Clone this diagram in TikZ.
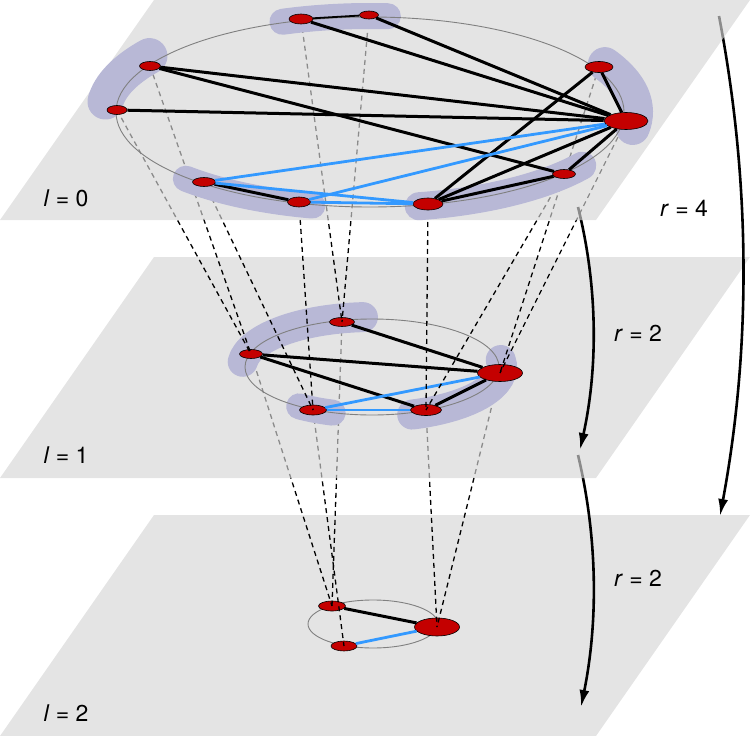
\documentclass[tikz,border=0pt]{standalone}
\usepackage{fontspec}
\setmainfont{TeX Gyre Heros}
\usetikzlibrary{shapes.geometric}
\usetikzlibrary{arrows.meta}

\definecolor{nodered}{RGB}{196,0,0}
\definecolor{edgeblue}{RGB}{51,153,255}
\definecolor{blobcol}{RGB}{184,184,214}

\pgfdeclarelayer{plane2}
\pgfdeclarelayer{graph2}
\pgfdeclarelayer{drop2}
\pgfdeclarelayer{plane1}
\pgfdeclarelayer{graph1}
\pgfdeclarelayer{drop1}
\pgfdeclarelayer{plane0}
\pgfsetlayers{plane2,graph2,drop2,plane1,graph1,drop1,plane0,main}

\begin{document}
\begin{tikzpicture}[x=1pt, y=-1pt,
    plane/.style={fill=black!16, fill opacity=0.65},
    vtx/.style={ellipse, draw, fill=nodered, line width=0.6pt, inner sep=0pt},
    ring/.style={draw=black!50, line width=0.9pt},
    blob/.style={draw=blobcol, line cap=round},
    tie/.style={line width=3pt},
    bluetie/.style={draw=edgeblue, line width=2.8pt},
    drop/.style={dash pattern=on 5pt off 4pt, line width=1.3pt},
    jump/.style={line width=2.6pt, -{Latex[length=17pt,width=10pt]}},
    lvl/.style={font=\fontsize{23}{27}\selectfont}]
        \useasboundingbox (0,0) rectangle (750,736);

        \begin{pgfonlayer}{plane0}
          \fill[plane] (154,0) -- (750,0) -- (596,220) -- (0,220) -- cycle;
        \end{pgfonlayer}
        \begin{pgfonlayer}{plane1}
          \fill[plane] (154,257) -- (750,257) -- (596,478) -- (0,478) -- cycle;
        \end{pgfonlayer}
        \begin{pgfonlayer}{plane2}
          \fill[plane] (154,515) -- (750,515) -- (596,736) -- (0,736) -- cycle;
        \end{pgfonlayer}

        % level 0
        \draw[blob, line width=26pt] (370,112) ++(250:256 and 96) arc[start angle=250, end angle=274, x radius=256, y radius=96];
        \draw[blob, line width=36pt] (370,112) ++(186:266 and 100) arc[start angle=186, end angle=214, x radius=266, y radius=100];
        \draw[blob, line width=34pt] (370,112) ++(332:266 and 102) arc[start angle=332, end angle=369, x radius=266, y radius=102];
        \draw[blob, line width=26pt] (370,112) ++(103:256 and 96) arc[start angle=103, end angle=136, x radius=256, y radius=96];
        \draw[blob, line width=28pt] (370,112) ++(34:256 and 96) arc[start angle=34, end angle=79, x radius=256, y radius=96];
        \draw[ring] (370,112) ellipse [x radius=254, y radius=95];

        \node[vtx, minimum width=24pt, minimum height=10pt] (a0) at (301,19) {};
        \node[vtx, minimum width=19pt, minimum height=8pt] (b0) at (369,15) {};
        \node[vtx, minimum width=21pt, minimum height=9pt] (c0) at (150,66) {};
        \node[vtx, minimum width=20pt, minimum height=9pt] (d0) at (117,110) {};
        \node[vtx, minimum width=28pt, minimum height=11pt] (e0) at (599,67) {};
        \node[vtx, minimum width=44pt, minimum height=17pt] (f0) at (626,121) {};
        \node[vtx, minimum width=23pt, minimum height=9pt] (g0) at (204,182) {};
        \node[vtx, minimum width=23pt, minimum height=10pt] (h0) at (299,202) {};
        \node[vtx, minimum width=30pt, minimum height=12pt] (i0) at (428,204) {};
        \node[vtx, minimum width=23pt, minimum height=9pt] (j0) at (564,174) {};

        \draw[tie, line width=1.8pt] (a0) -- (b0);
        \draw[tie] (a0) -- (f0);
        \draw[tie] (b0) -- (f0);
        \draw[tie] (c0) -- (f0);
        \draw[tie] (c0) -- (j0);
        \draw[tie] (d0) -- (f0);
        \draw[tie] (e0) -- (f0);
        \draw[tie] (e0) -- (i0);
        \draw[tie] (f0) -- (i0);
        \draw[tie] (f0) -- (j0);
        \draw[tie] (i0) -- (j0);
        \draw[tie] (g0) -- (h0);
        \draw[bluetie] (g0) -- (f0);
        \draw[bluetie] (h0) -- (f0);
        \draw[bluetie] (g0) -- (i0);
        \draw[bluetie] (h0) -- (i0);

        % level 1
        \begin{pgfonlayer}{graph1}
          \draw[blob, line width=30pt] (372,367) ++(186:130 and 50) arc[start angle=186, end angle=266, x radius=130, y radius=50];
          \draw[blob, line width=30pt] (372,367) ++(-8:130 and 50) arc[start angle=-8, end angle=72, x radius=130, y radius=50];
          \draw[blob, line width=26pt] (372,367) ++(108:127 and 48) arc[start angle=108, end angle=125, x radius=127, y radius=48];
          \draw[ring] (372,367) ellipse [x radius=127, y radius=48];

          \node[vtx, minimum width=25pt, minimum height=9pt] (p1) at (342,322) {};
          \node[vtx, minimum width=23pt, minimum height=9pt] (q1) at (251,354) {};
          \node[vtx, minimum width=45pt, minimum height=17pt] (r1) at (500,373) {};
          \node[vtx, minimum width=27pt, minimum height=10pt] (s1) at (313,410) {};
          \node[vtx, minimum width=31pt, minimum height=11pt] (t1) at (426,410) {};

          \draw[tie] (p1) -- (r1);
          \draw[tie] (q1) -- (r1);
          \draw[tie] (q1) -- (t1);
          \draw[tie] (t1) -- (r1);
          \draw[bluetie] (s1) -- (r1);
          \draw[bluetie] (s1) -- (t1);
        \end{pgfonlayer}

        % level 2
        \begin{pgfonlayer}{graph2}
          \draw[ring] (373,624) ellipse [x radius=65, y radius=24];

          \node[vtx, minimum width=27pt, minimum height=10pt] (u2) at (332,606) {};
          \node[vtx, minimum width=26pt, minimum height=10pt] (v2) at (344,646) {};
          \node[vtx, minimum width=45pt, minimum height=18pt] (w2) at (437,627) {};

          \draw[tie] (u2) -- (w2);
          \draw[bluetie] (v2) -- (w2);
        \end{pgfonlayer}

        % projections between levels
        \begin{pgfonlayer}{drop1}
          \foreach \up/\down in {a0/p1, b0/p1, c0/q1, d0/q1, e0/r1, f0/r1, g0/s1, h0/s1, i0/t1, j0/t1}
            \draw[drop] (\up.center) -- (\down.center);

          \coordinate (r4s) at (719,16);
          \coordinate (r4e) at (720,516);
          \coordinate (r2s) at (578,207);
          \coordinate (r2e) at (580,450);
          \draw[jump] (r4s) .. controls (751,183) and (751,349) .. (r4e);
          \draw[jump] (r2s) .. controls (598,287) and (598,368) .. (r2e);
        \end{pgfonlayer}
        \begin{pgfonlayer}{drop2}
          \foreach \up/\down in {p1/u2, q1/u2, s1/v2, r1/w2, t1/w2}
            \draw[drop] (\up.center) -- (\down.center);

          \coordinate (r3s) at (578,455);
          \coordinate (r3e) at (581,707);
          \draw[jump] (r3s) .. controls (598,539) and (598,623) .. (r3e);
        \end{pgfonlayer}

        \node[lvl] (lab0) at (66,198) {\textit{l} = 0};
        \node[lvl] (lab1) at (66,455) {\textit{l} = 1};
        \node[lvl] (lab2) at (66,713) {\textit{l} = 2};
        \node[lvl] (rad4) at (684,208) {\textit{r} = 4};
        \node[lvl] (rad2a) at (638,333) {\textit{r} = 2};
        \node[lvl] (rad2b) at (638,578) {\textit{r} = 2};
      \end{tikzpicture}
\end{document}
